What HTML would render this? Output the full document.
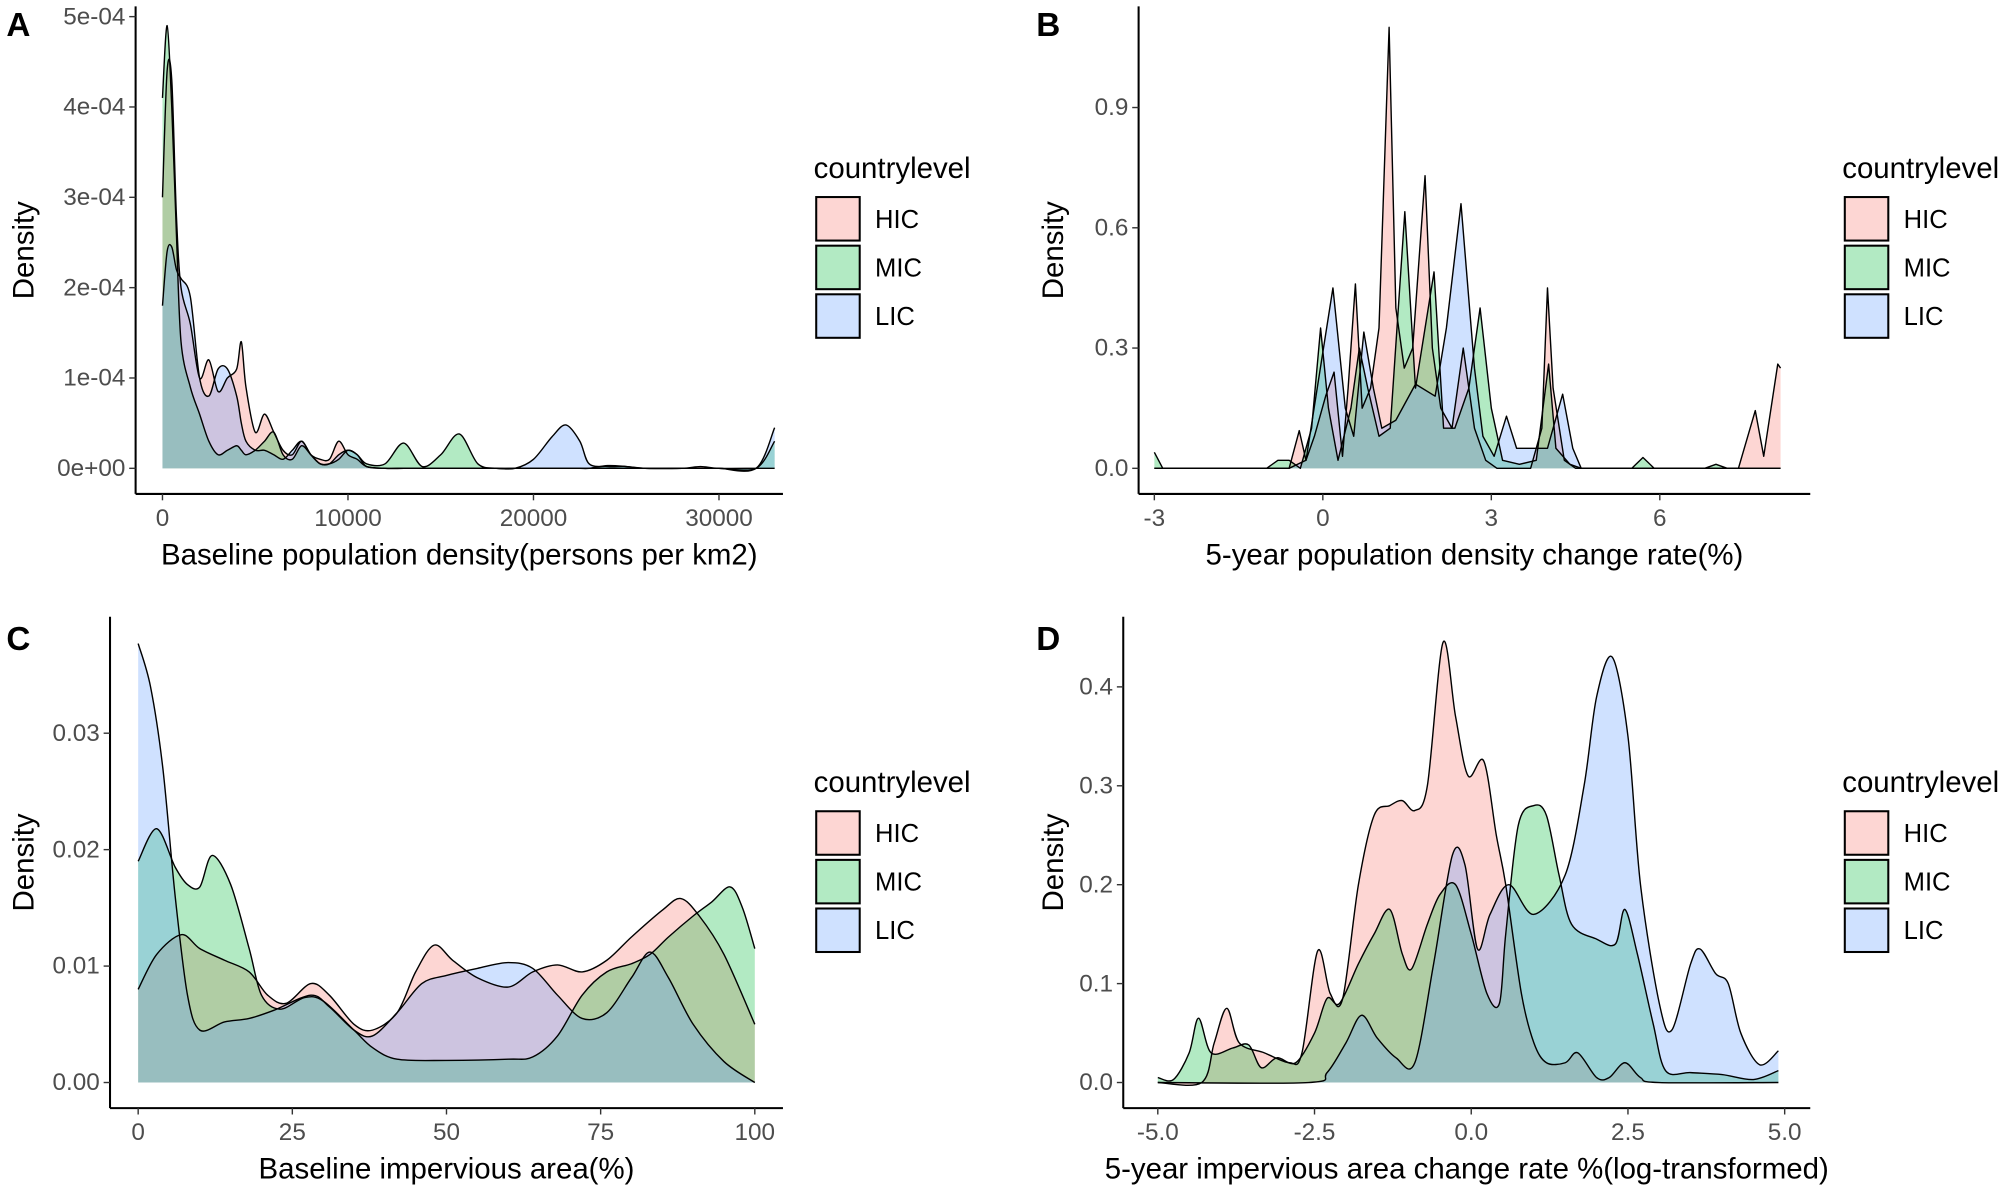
<!DOCTYPE html>
<html><head><meta charset="utf-8"><title>Density plots by country level</title>
<style>
html,body{margin:0;padding:0;background:#fff;}
svg{display:block;}
text{font-family:"Liberation Sans",Arial,sans-serif;}
</style></head>
<body>
<svg id="fig" xmlns="http://www.w3.org/2000/svg" width="2006" height="1190" viewBox="0 0 1568 930" preserveAspectRatio="none"></svg>
<script>
// ---------- Panel A data (density in units of 1e-4) ----------
const aX = [0,250,500,750,1000,1500,2000,2500,3000,3500,4000,4250,4500,5000,5500,6000,6500,7000,7500,8000,8500,9000,9500,10000,10500,11000,12000,13000,14000,15000,16000,17000,18000,19000,20000,21000,21750,22500,23000,24000,25000,26000,28000,29000,30000,32000,33000];
const aHIC = [3.0,4.4,4.3,2.8,2.0,1.6,1.0,1.2,0.85,1.0,1.1,1.4,0.9,0.4,0.6,0.4,0.2,0.15,0.3,0.15,0.1,0.1,0.3,0.15,0.1,0.02,0,0,0,0,0,0,0,0,0,0,0,0,0,0,0,0,0,0.02,0,0,0];
const aMIC = [4.1,4.9,4.0,2.6,1.4,0.9,0.6,0.3,0.15,0.2,0.25,0.2,0.15,0.2,0.3,0.4,0.15,0.1,0.25,0.15,0.05,0.05,0.1,0.2,0.15,0.05,0.05,0.28,0.02,0.15,0.38,0.05,0,0,0,0,0,0,0,0.03,0.02,0,0,0,0,0,0.3];
const aLIC = [1.8,2.4,2.45,2.2,2.1,1.9,1.0,0.8,1.1,1.1,0.8,0.5,0.3,0.2,0.2,0.15,0.1,0.2,0.3,0.15,0.05,0.05,0.15,0.2,0.15,0.02,0,0,0,0,0,0,0,0,0.1,0.35,0.48,0.3,0.05,0.02,0.02,0,0,0,0,0,0.45];
const aXTicks = [0,10000,20000,30000];
const aXTickLabels = ["0","10000","20000","30000"];
const aYTicks = [0,1,2,3,4,5];
const aYTickLabels = ["0e+00","1e-04","2e-04","3e-04","4e-04","5e-04"];

// ---------- Panel B data ----------
const bHICx = [-3,-0.6,-0.42,-0.3,-0.15,0.05,0.2,0.35,0.45,0.58,0.7,0.85,1.0,1.18,1.3,1.45,1.6,1.82,1.95,2.1,2.3,2.5,2.7,2.9,3.1,3.7,3.9,4.0,4.1,4.3,4.5,7.4,7.7,7.85,8.1,8.15];
const bHICy = [0,0,0.094,0.02,0.08,0.18,0.24,0.03,0.2,0.46,0.15,0.2,0.35,1.1,0.4,0.25,0.3,0.73,0.3,0.15,0.1,0.3,0.1,0.02,0,0,0.1,0.45,0.2,0.02,0,0,0.144,0.03,0.26,0.25];
const bMICx = [-3,-2.85,-1.0,-0.8,-0.6,-0.4,-0.2,-0.04,0.1,0.27,0.5,0.65,0.8,1.0,1.2,1.46,1.65,1.98,2.15,2.35,2.6,2.8,3.0,3.2,3.5,3.8,4.02,4.15,4.4,4.6,5.5,5.7,5.9,6.8,7.0,7.2,8.15];
const bMICy = [0.04,0,0,0.02,0.02,0,0.1,0.35,0.15,0.02,0.15,0.3,0.2,0.08,0.1,0.64,0.2,0.49,0.1,0.1,0.2,0.4,0.15,0.02,0.01,0.02,0.26,0.05,0.01,0,0,0.027,0,0,0.01,0,0];
const bLICx = [-3,-0.6,-0.3,-0.1,0.18,0.4,0.55,0.73,0.9,1.05,1.3,1.65,2.0,2.2,2.46,2.7,2.85,3.05,3.27,3.45,3.7,4.0,4.27,4.45,4.6,8.15];
const bLICy = [0,0,0.02,0.2,0.45,0.15,0.08,0.34,0.2,0.1,0.12,0.21,0.18,0.35,0.66,0.25,0.08,0.03,0.13,0.05,0.05,0.05,0.185,0.05,0,0];
const bXTicks = [-3,0,3,6];
const bXTickLabels = ["-3","0","3","6"];
const bYTicks = [0,0.3,0.6,0.9];
const bYTickLabels = ["0.0","0.3","0.6","0.9"];

// ---------- Panel C data ----------
const cHICx = [0,3,7,10,14,18,21,24,28,31,35,38,42,45,48,51,55,60,64,68,72,76,80,85,88,91,95,100];
const cHICy = [0.008,0.011,0.0127,0.0115,0.0105,0.0095,0.0075,0.0068,0.0085,0.0075,0.005,0.0045,0.006,0.0095,0.0118,0.0105,0.009,0.0082,0.0095,0.0101,0.0095,0.0105,0.0125,0.0148,0.0158,0.0143,0.011,0.005];
const cMICx = [0,3,6,8,10,12,15,18,20,23,27,30,35,38,42,50,60,64,68,72,76,80,83,86,90,93,96,98,100];
const cMICy = [0.019,0.0218,0.0185,0.017,0.0168,0.0195,0.017,0.0115,0.0075,0.0063,0.0073,0.007,0.0045,0.003,0.002,0.0019,0.002,0.0022,0.004,0.0075,0.0095,0.0102,0.011,0.0125,0.0143,0.0155,0.0168,0.015,0.0115];
const cLICx = [0,2,4,6,8,10,14,18,22,28,31,35,38,42,46,50,55,60,64,68,72,76,80,83,86,90,95,100];
const cLICy = [0.0377,0.034,0.027,0.016,0.0075,0.0045,0.0052,0.0055,0.0062,0.0075,0.0065,0.0045,0.004,0.006,0.0085,0.0092,0.0098,0.0103,0.0098,0.0075,0.0055,0.006,0.009,0.0112,0.009,0.005,0.0018,0];
const cXTicks = [0,25,50,75,100];
const cXTickLabels = ["0","25","50","75","100"];
const cYTicks = [0,0.01,0.02,0.03];
const cYTickLabels = ["0.00","0.01","0.02","0.03"];

// ---------- Panel D data ----------
const dHICx = [-5,-4.3,-4.1,-3.9,-3.7,-3.3,-2.9,-2.7,-2.45,-2.25,-2.05,-1.8,-1.55,-1.3,-1.1,-0.9,-0.7,-0.45,-0.25,-0.05,0.2,0.4,0.55,0.8,1.0,1.2,1.5,1.7,2.0,2.2,2.45,2.7,3.0,4.9];
const dHICy = [0,0,0.04,0.075,0.04,0.03,0.02,0.03,0.133,0.09,0.085,0.2,0.27,0.28,0.285,0.275,0.3,0.445,0.37,0.31,0.325,0.25,0.2,0.09,0.04,0.02,0.02,0.03,0.005,0.005,0.02,0.005,0,0];
const dMICx = [-5,-4.75,-4.5,-4.35,-4.15,-3.8,-3.55,-3.35,-3.1,-2.8,-2.5,-2.3,-2.1,-1.8,-1.55,-1.3,-1.1,-0.95,-0.7,-0.5,-0.25,0.0,0.25,0.45,0.55,0.75,1.0,1.2,1.4,1.6,2.0,2.3,2.45,2.65,2.9,3.1,3.5,4.0,4.5,4.9];
const dMICy = [0.005,0.003,0.03,0.065,0.03,0.035,0.038,0.015,0.025,0.02,0.05,0.085,0.08,0.12,0.15,0.175,0.13,0.115,0.16,0.19,0.2,0.15,0.09,0.08,0.15,0.26,0.28,0.27,0.21,0.16,0.145,0.14,0.175,0.13,0.06,0.012,0.01,0.008,0.003,0.012];
const dLICx = [-5,-2.6,-2.3,-2.0,-1.75,-1.5,-1.2,-0.9,-0.6,-0.3,-0.1,0.1,0.3,0.6,1.0,1.5,1.8,2.0,2.25,2.5,2.7,3.0,3.2,3.5,3.65,3.9,4.1,4.3,4.6,4.9];
const dLICy = [0,0,0.01,0.04,0.068,0.045,0.025,0.02,0.12,0.23,0.22,0.135,0.17,0.2,0.17,0.21,0.3,0.39,0.43,0.35,0.2,0.08,0.053,0.12,0.135,0.11,0.1,0.05,0.018,0.032];
const dXTicks = [-5,-2.5,0,2.5,5];
const dXTickLabels = ["-5.0","-2.5","0.0","2.5","5.0"];
const dYTicks = [0,0.1,0.2,0.3,0.4];
const dYTickLabels = ["0.0","0.1","0.2","0.3","0.4"];

const legendLevels = ["HIC","MIC","LIC"];
const fillColors = {HIC:"#F8766D", MIC:"#00BA38", LIC:"#619CFF"};

const NS = "http://www.w3.org/2000/svg";
const svg = document.getElementById("fig");
function mk(tag, attrs, parent){
  const e = document.createElementNS(NS, tag);
  for (const k in attrs) e.setAttribute(k, attrs[k]);
  (parent||svg).appendChild(e);
  return e;
}

function smoothPath(pts){
  let d = "M" + pts[0][0].toFixed(2) + "," + pts[0][1].toFixed(2);
  for (let i=0;i<pts.length-1;i++){
    const p0 = pts[i-1]||pts[i], p1=pts[i], p2=pts[i+1], p3=pts[i+2]||pts[i+1];
    const t = 0.16;
    const c1x = p1[0]+(p2[0]-p0[0])*t, c1y = p1[1]+(p2[1]-p0[1])*t;
    const c2x = p2[0]-(p3[0]-p1[0])*t, c2y = p2[1]-(p3[1]-p1[1])*t;
    d += " C"+c1x.toFixed(2)+","+c1y.toFixed(2)+" "+c2x.toFixed(2)+","+c2y.toFixed(2)+" "+p2[0].toFixed(2)+","+p2[1].toFixed(2);
  }
  return d;
}

function drawPanel(cfg){
  const g = mk("g", {});
  
  
  const sx = v => cfg.x0px + (v - cfg.x0v) * cfg.xScale;
  const sy = v => cfg.y0px - (v - cfg.y0v) * cfg.yScale;
  cfg.series.forEach(s => {
    const pts = s.x.map((xv,i)=>[sx(xv), sy(s.y[i])]);
    const top = cfg.smooth ? smoothPath(pts) : "M" + pts.map(p=>p[0].toFixed(2)+","+p[1].toFixed(2)).join(" L");
    const base = sy(0);
    const area = mk("path", {d: top + " L"+pts[pts.length-1][0].toFixed(2)+","+base+" L"+pts[0][0].toFixed(2)+","+base+" Z", fill: fillColors[s.level], "fill-opacity":"0.3", stroke:"none"}, g);
    
    
  });
  cfg.series.forEach(s => {
    const pts = s.x.map((xv,i)=>[sx(xv), sy(s.y[i])]);
    const top = cfg.smooth ? smoothPath(pts) : "M" + pts.map(p=>p[0].toFixed(2)+","+p[1].toFixed(2)).join(" L");
    const line = mk("path", {d: top, fill:"none", stroke:"#000", "stroke-width":"1.1", "stroke-linejoin":"round"}, g);
    
    
  });
  const ya = mk("line", {x1:cfg.axX, y1:cfg.axTop, x2:cfg.axX, y2:cfg.axY, stroke:"#000", "stroke-width":"1.6"}, g);
  
  
  const xa = mk("line", {x1:cfg.axX, y1:cfg.axY, x2:cfg.axRight, y2:cfg.axY, stroke:"#000", "stroke-width":"1.6"}, g);
  
  
  cfg.xTicks.forEach((v,i)=>{
    const px = sx(v);
    const tk = mk("line", {x1:px, y1:cfg.axY, x2:px, y2:cfg.axY+5, stroke:"#333", "stroke-width":"1.1"}, g);
    
    
    const t = mk("text", {x:px, y:cfg.axY+25, "text-anchor":"middle", "font-size":"19", fill:"#4d4d4d"}, g);
    t.textContent = cfg.xTickLabels[i];
    
    
  });
  cfg.yTicks.forEach((v,i)=>{
    const py = sy(v);
    const tk = mk("line", {x1:cfg.axX-5, y1:py, x2:cfg.axX, y2:py, stroke:"#333", "stroke-width":"1.1"}, g);
    
    
    const t = mk("text", {x:cfg.axX-8, y:py+6, "text-anchor":"end", "font-size":"19", fill:"#4d4d4d"}, g);
    t.textContent = cfg.yTickLabels[i];
    
    
  });
  const xt = mk("text", {x:(cfg.axX+cfg.axRight)/2, y:cfg.axY+55, "text-anchor":"middle", "font-size":"23", fill:"#000"}, g);
  xt.textContent = cfg.xTitle;
  
  
  const yt = mk("text", {x:0, y:0, "text-anchor":"middle", "font-size":"23", fill:"#000", transform:"translate("+cfg.yTitleX+","+((cfg.axTop+cfg.axY)/2)+") rotate(-90)"}, g);
  yt.textContent = "Density";
  
  
  const lt = mk("text", {x:cfg.tagX, y:cfg.tagY, "font-size":"26", "font-weight":"bold", fill:"#000"}, g);
  lt.textContent = cfg.tag;
  
  
  const lg = mk("g", {}, g);
  
  
  const ltitle = mk("text", {x:cfg.legX-1, y:cfg.legY, "font-size":"23", fill:"#000"}, lg);
  ltitle.textContent = "countrylevel";
  
  
  legendLevels.forEach((lv,i)=>{
    const ky = cfg.legY + 14 + i*38;
    const r = mk("rect", {x:cfg.legX+1, y:ky+1, width:34, height:34, fill:fillColors[lv], "fill-opacity":"0.3", stroke:"#000", "stroke-width":"1.6"}, lg);
    
    
    const t = mk("text", {x:cfg.legX+47, y:ky+25, "font-size":"20", fill:"#000"}, lg);
    t.textContent = lv;
    
    
  });
}

drawPanel({name:"panel-a", tag:"A", tagX:5, tagY:28, smooth:true,
  x0v:0, x0px:127, xScale:145/10000, y0v:0, y0px:366, yScale:70.6,
  axX:106, axY:386, axTop:5, axRight:612, yTitleX:26,
  xTicks:aXTicks, xTickLabels:aXTickLabels, yTicks:aYTicks, yTickLabels:aYTickLabels,
  xTitle:"Baseline population density(persons per km2)", legX:637, legY:139,
  series:[{level:"HIC",x:aX,y:aHIC},{level:"MIC",x:aX,y:aMIC},{level:"LIC",x:aX,y:aLIC}]});

drawPanel({name:"panel-b", tag:"B", tagX:810, tagY:28, smooth:false,
  x0v:0, x0px:1034, xScale:43.9, y0v:0, y0px:366, yScale:313.3,
  axX:890, axY:386, axTop:5, axRight:1415, yTitleX:831,
  xTicks:bXTicks, xTickLabels:bXTickLabels, yTicks:bYTicks, yTickLabels:bYTickLabels,
  xTitle:"5-year population density change rate(%)", legX:1441, legY:139,
  series:[{level:"HIC",x:bHICx,y:bHICy},{level:"MIC",x:bMICx,y:bMICy},{level:"LIC",x:bLICx,y:bLICy}]});

drawPanel({name:"panel-c", tag:"C", tagX:5, tagY:508, smooth:true,
  x0v:0, x0px:108, xScale:4.82, y0v:0, y0px:846, yScale:9100,
  axX:86, axY:866, axTop:482, axRight:612, yTitleX:26,
  xTicks:cXTicks, xTickLabels:cXTickLabels, yTicks:cYTicks, yTickLabels:cYTickLabels,
  xTitle:"Baseline impervious area(%)", legX:637, legY:619,
  series:[{level:"HIC",x:cHICx,y:cHICy},{level:"MIC",x:cMICx,y:cMICy},{level:"LIC",x:cLICx,y:cLICy}]});

drawPanel({name:"panel-d", tag:"D", tagX:810, tagY:508, smooth:true,
  x0v:0, x0px:1150, xScale:49, y0v:0, y0px:846, yScale:773,
  axX:878, axY:866, axTop:482, axRight:1415, yTitleX:831,
  xTicks:dXTicks, xTickLabels:dXTickLabels, yTicks:dYTicks, yTickLabels:dYTickLabels,
  xTitle:"5-year impervious area change rate %(log-transformed)", legX:1441, legY:619,
  series:[{level:"HIC",x:dHICx,y:dHICy},{level:"MIC",x:dMICx,y:dMICy},{level:"LIC",x:dLICx,y:dLICy}]});
</script>
</body></html>
